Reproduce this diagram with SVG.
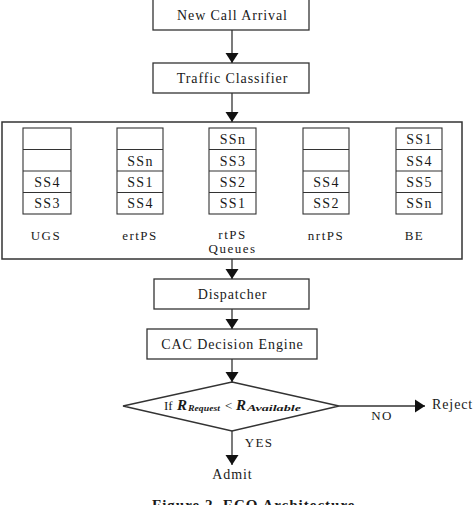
<svg xmlns="http://www.w3.org/2000/svg" width="474" height="505" viewBox="0 0 474 505">
<style>
.box{fill:#fff;stroke:#333;stroke-width:1.3}
.cell{fill:#fff;stroke:#333;stroke-width:1.1}
.t{font-family:"Liberation Serif","Times New Roman",serif;font-size:14px;fill:#1a1a1a;text-anchor:middle;letter-spacing:0.9px}
.s{font-family:"Liberation Serif","Times New Roman",serif;font-size:14px;fill:#1a1a1a;text-anchor:middle;letter-spacing:1.3px}
.l{font-family:"Liberation Serif","Times New Roman",serif;font-size:13px;fill:#1a1a1a;text-anchor:middle;letter-spacing:1.5px}
.c{stroke:#333;stroke-width:1.3;fill:none}
.cap{font-family:"Liberation Serif","Times New Roman",serif;font-size:15px;font-weight:bold;fill:#1a1a1a;letter-spacing:1px}
.bi{font-weight:bold;font-style:italic}
</style>
<defs>
<marker id="ah" markerUnits="userSpaceOnUse" markerWidth="14" markerHeight="14" viewBox="0 0 14 14" refX="10" refY="7" orient="auto">
<path d="M0,0.5 L10,7 L0,13.5 Z" fill="#111"/>
</marker>
</defs>

<g id="new-call-arrival">
<rect class="box" x="153" y="-2" width="156" height="32"/>
<text class="t" x="232.5" y="19.5">New Call Arrival</text>
</g>

<g id="traffic-classifier">
<rect class="box" x="153" y="63" width="156" height="30"/>
<text class="t" x="232.5" y="83">Traffic Classifier</text>
</g>

<g id="queues">
<rect class="box" x="2" y="122" width="460" height="137" style="stroke-width:1.5"/>
<g id="ugs">
<rect class="cell" x="23" y="128" width="48" height="86"/>
<line class="cell" x1="23" y1="149.5" x2="71" y2="149.5"/>
<line class="cell" x1="23" y1="171" x2="71" y2="171"/>
<line class="cell" x1="23" y1="192.5" x2="71" y2="192.5"/>
<text class="s" x="47.5" y="187">SS4</text>
<text class="s" x="47.5" y="208">SS3</text>
<text class="l" x="46" y="239.5">UGS</text>
</g>
<g id="ertps">
<rect class="cell" x="117" y="128" width="46" height="86"/>
<line class="cell" x1="117" y1="149.5" x2="163" y2="149.5"/>
<line class="cell" x1="117" y1="171" x2="163" y2="171"/>
<line class="cell" x1="117" y1="192.5" x2="163" y2="192.5"/>
<text class="s" x="140.5" y="165.5">SSn</text>
<text class="s" x="140.5" y="187">SS1</text>
<text class="s" x="140.5" y="208">SS4</text>
<text class="l" x="140" y="239.5">ertPS</text>
</g>
<g id="rtps">
<rect class="cell" x="209" y="128" width="47" height="86"/>
<line class="cell" x1="209" y1="149.5" x2="256" y2="149.5"/>
<line class="cell" x1="209" y1="171" x2="256" y2="171"/>
<line class="cell" x1="209" y1="192.5" x2="256" y2="192.5"/>
<text class="s" x="233" y="144">SSn</text>
<text class="s" x="233" y="165.5">SS3</text>
<text class="s" x="233" y="187">SS2</text>
<text class="s" x="233" y="208">SS1</text>
<text class="l" x="232.5" y="238.5">rtPS</text>
<text class="l" x="232.5" y="252.5">Queues</text>
</g>
<g id="nrtps">
<rect class="cell" x="303" y="128" width="46" height="86"/>
<line class="cell" x1="303" y1="149.5" x2="349" y2="149.5"/>
<line class="cell" x1="303" y1="171" x2="349" y2="171"/>
<line class="cell" x1="303" y1="192.5" x2="349" y2="192.5"/>
<text class="s" x="326.5" y="187">SS4</text>
<text class="s" x="326.5" y="208">SS2</text>
<text class="l" x="326" y="239.5">nrtPS</text>
</g>
<g id="be">
<rect class="cell" x="396" y="128" width="46" height="86"/>
<line class="cell" x1="396" y1="149.5" x2="442" y2="149.5"/>
<line class="cell" x1="396" y1="171" x2="442" y2="171"/>
<line class="cell" x1="396" y1="192.5" x2="442" y2="192.5"/>
<text class="s" x="419.5" y="144">SS1</text>
<text class="s" x="419.5" y="165.5">SS4</text>
<text class="s" x="419.5" y="187">SS5</text>
<text class="s" x="419.5" y="208">SSn</text>
<text class="l" x="414.5" y="239.5">BE</text>
</g>
</g>

<g id="dispatcher">
<rect class="box" x="154" y="279" width="155" height="30"/>
<text class="t" x="232.5" y="298.5">Dispatcher</text>
</g>

<g id="cac-decision-engine">
<rect class="box" x="147" y="329" width="170" height="30"/>
<text class="t" x="232.5" y="349">CAC Decision Engine</text>
</g>

<g id="decision">
<polygon class="box" points="232,382 339,406 232,431 123,406"/>
<text font-family="Liberation Serif, Times New Roman, serif" fill="#1a1a1a" y="410"><tspan x="164" font-size="13">If</tspan><tspan class="bi" x="177" font-size="15">R</tspan><tspan class="bi" x="188" y="411" font-size="9" textLength="32" lengthAdjust="spacingAndGlyphs">Request</tspan><tspan x="225" y="410" font-size="13">&lt;</tspan><tspan class="bi" x="236" font-size="15">R</tspan><tspan class="bi" x="247" y="411" font-size="9" textLength="54" lengthAdjust="spacingAndGlyphs">Available</tspan></text>
</g>

<g id="reject">
<text class="t" x="432" y="409" style="text-anchor:start">Reject</text>
</g>

<g id="admit">
<text class="t" x="232.5" y="479">Admit</text>
</g>

<g id="connectors">
<line class="c" x1="232" y1="30" x2="232" y2="63" marker-end="url(#ah)"/>
<line class="c" x1="232" y1="93" x2="232" y2="122" marker-end="url(#ah)"/>
<line class="c" x1="232" y1="259" x2="232" y2="279" marker-end="url(#ah)"/>
<line class="c" x1="232" y1="309" x2="232" y2="329" marker-end="url(#ah)"/>
<line class="c" x1="232" y1="359" x2="232" y2="382" marker-end="url(#ah)"/>
<line class="c" x1="339" y1="406" x2="425" y2="406" marker-end="url(#ah)"/>
<line class="c" x1="232" y1="431" x2="232" y2="465" marker-end="url(#ah)"/>
<text class="s" x="382" y="420" style="font-size:13px">NO</text>
<text class="s" x="259" y="447" style="font-size:13px">YES</text>
</g>

<text class="cap" x="152" y="510">Figure 2.   ECO Architecture</text>
</svg>
